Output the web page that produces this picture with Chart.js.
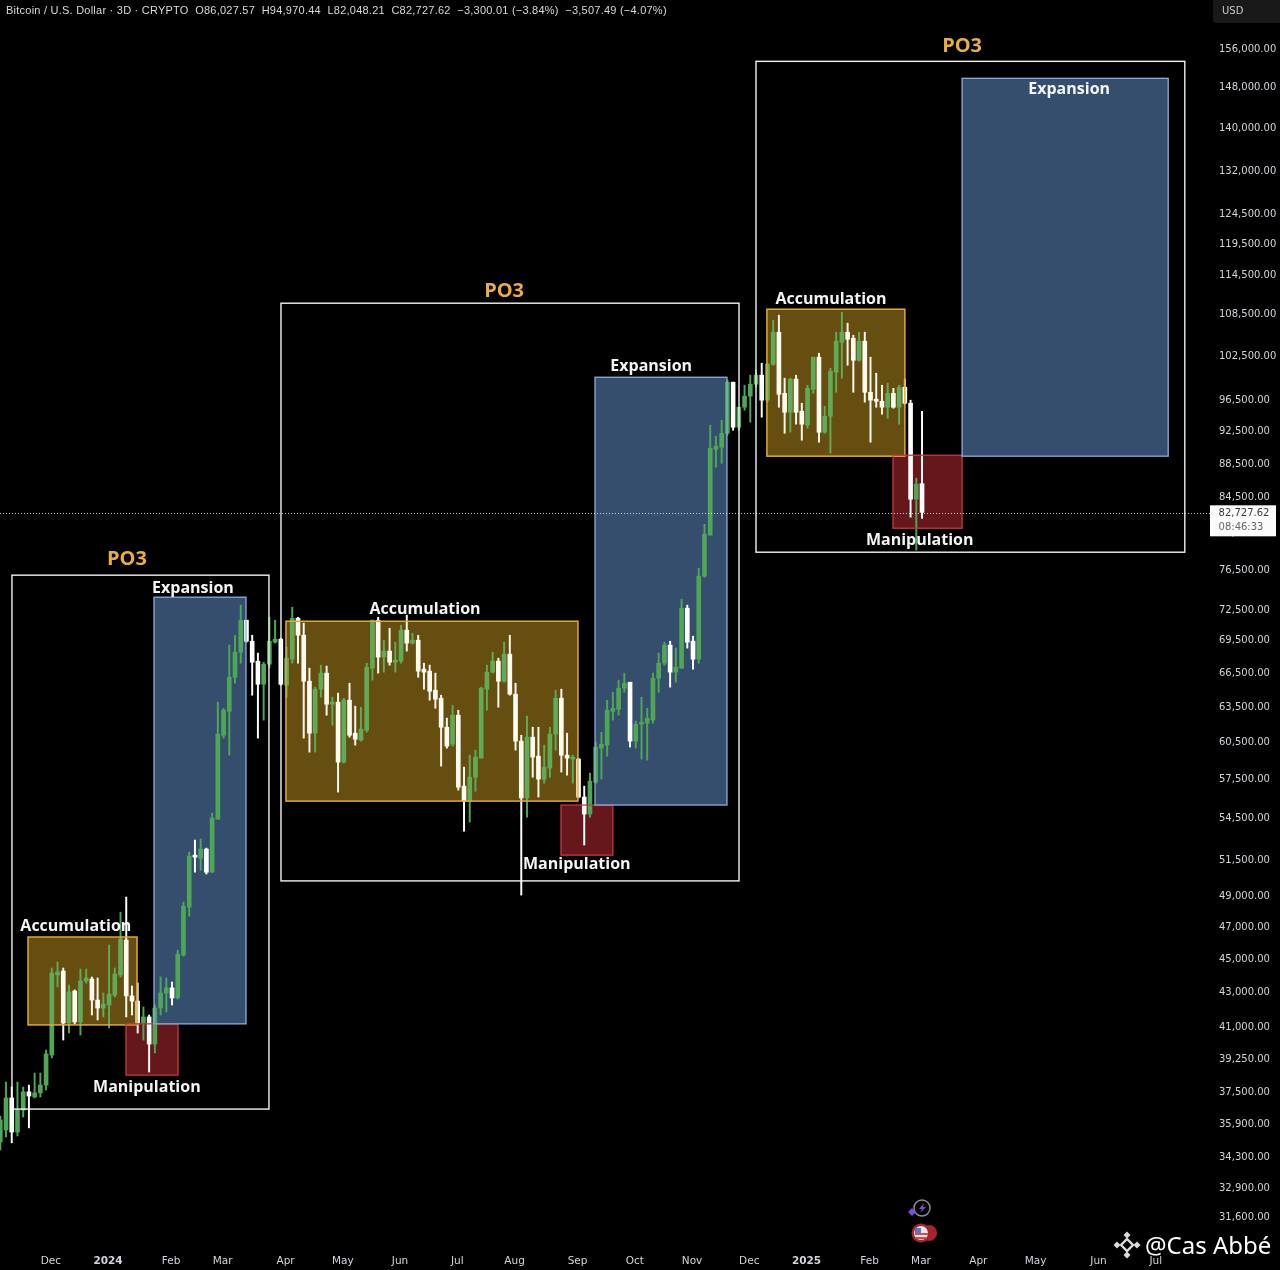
<!DOCTYPE html>
<html>
<head>
<meta charset="utf-8">
<style>html,body{margin:0;padding:0;background:#000}canvas{display:block}</style>
<script src="https://cdn.jsdelivr.net/npm/chart.js@4"></script>
</head>
<body>
<canvas id="c" width="1280" height="1270"></canvas>
<script>
const openPrices=[35000,35580,37170,35480,36560,37480,37220,37430,37830,39420,
43970,44210,41180,43020,41240,43610,43730,42490,42030,42200,
42780,43970,46120,42730,42430,41180,41520,40010,42030,42900,
43200,42610,45180,48240,51720,51580,52220,50600,54400,61010,
63040,66040,68340,71390,69370,67500,65410,67230,69280,69560,
65320,67690,71580,69940,65680,61180,64970,66410,63650,63830,
58810,64000,61180,60600,61430,66860,71390,67880,68440,67410,
67510,70420,69190,69470,66770,66590,64880,64170,61680,60270,
62700,56910,55760,57610,59130,64970,66500,67510,65680,68150,
64530,60520,56000,60850,59290,57460,58330,61100,64170,59370,
59050,59050,56070,54780,57220,59940,60190,63040,63220,65060,
65590,60520,61940,62020,62280,65950,67320,69000,66500,66860,
72570,69370,67690,75820,80190,90170,90420,92160,98820,92920,
95500,96950,98550,99770,96420,101270,105800,97330,94850,99230,
94980,93180,97870,102250,92290,94330,100180,104370,105800,104930,
101830,104510,97470,96550,96280,95500,97330,95500,98140,96020,
84230,86027.57];
const highPrices=[36260,37990,37730,37990,37730,37830,38460,38460,39690,44390,
44760,44390,43370,43080,44330,44330,43850,43790,42900,45800,
44390,47910,48910,43310,43490,42090,41630,42200,43850,43790,
43550,45490,48580,52010,52870,52940,52290,54850,63830,63300,
69000,69940,72870,71390,69940,68250,67410,71680,71390,69660,
68810,72670,71680,71100,66860,65150,67140,67050,64260,64620,
64170,65500,63480,63390,67320,71390,71680,69470,70610,69280,
70900,71880,70130,69940,67320,67140,66410,64440,62450,63560,
63130,58410,59370,59780,65150,67140,68340,67780,69280,69940,
65500,61010,62620,61680,61680,60190,61680,64880,64970,61180,
59370,59130,56910,57930,60440,61260,64000,64700,65770,66410,
65590,62200,64260,63300,66410,68250,69280,69370,68720,73470,
72870,69850,76650,81390,93180,91790,93820,99090,98820,95500,
98410,99770,100450,101410,101410,107550,108290,99360,99360,99770,
96020,98410,102250,102810,95630,100720,105800,108730,107110,105370,
105800,105800,102250,100040,98410,98680,98000,98410,99230,96420,
86680,94970.44];
const lowPrices=[34620,35240,34960,35290,36210,35680,37170,37220,37580,39260,
43260,40230,40620,41120,40510,43490,41630,41350,41520,40900,
42670,43850,41520,41630,40620,40230,38510,39530,41630,41810,
42200,42550,45120,47650,50600,50740,50470,50600,54400,60770,
59370,65500,67320,69280,64440,60770,62280,66950,69190,65320,
64260,67320,67320,60770,59620,59620,64260,62700,61850,56450,
58730,60850,60190,60520,61270,65770,66410,66500,67140,66500,
67320,68440,69090,66040,64970,64000,63300,58490,59940,60110,
56600,53520,54180,56520,59130,63130,66410,63390,65590,64440,
59780,49040,54550,57610,56070,57140,57610,59780,58010,57770,
57140,56000,52510,54550,57140,57460,59290,62280,62700,64700,
60030,59940,59050,58970,62020,64700,67140,65150,65590,66860,
68720,66770,67320,75710,80190,87990,88460,91910,92540,92540,
95110,93560,98140,94210,96150,101130,95500,92160,92290,93310,
91290,92790,97330,91040,92160,89680,97470,99360,101130,97470,
101690,96150,91040,95500,94590,94080,95370,93310,95890,82180,
78560,82048.21];
const closePrices=[36070,37170,35480,36560,37480,37270,37430,37830,39470,44090,
44150,41180,42960,41240,43610,43790,42490,42030,42260,42840,
44030,46180,42730,42430,41180,41520,40010,42030,42900,43200,
42610,45240,48300,51720,51650,52220,50600,54480,61100,63130,
66040,68340,71390,69370,67410,65410,67230,69370,69560,65410,
67780,71580,69940,65680,61180,64970,66410,63650,63830,58810,
64000,61010,60680,61520,66950,71390,67880,68440,67410,67600,
70420,69190,69470,66590,66500,64790,64090,61680,60110,62700,
56830,55760,57610,59210,65060,66500,67510,65680,68150,64530,
60520,56000,60850,59210,57460,58410,61100,64170,59370,59130,
59130,56070,54780,57300,60020,60270,63130,63300,65060,65500,
60520,61940,62110,62450,65950,67320,69000,66500,66950,72570,
69280,67690,75820,80300,90300,90550,92160,98820,92920,95500,
96950,98550,99770,96420,101270,105800,97200,94850,99230,94850,
93310,98000,102250,92290,94330,100310,104510,105800,104790,101830,
104510,97470,96420,96280,95500,97330,95500,98140,96020,84230,
85970,82727.62];

const priceTicks=[156000,148000,140000,132000,124500,119500,114500,108500,102500,96500,92500,88500,84500,80500,76500,72500,69500,66500,63500,60500,57500,54500,51500,49000,47000,45000,43000,41000,39250,37500,35900,34300,32900,31600];
const monthLabels=['Dec','2024','Feb','Mar','Apr','May','Jun','Jul','Aug','Sep','Oct','Nov','Dec','2025','Feb','Mar','Apr','May','Jun','Jul'];
const monthCandles=[9,19,30,39,50,60,70,80,90,101,111,121,131,141,152,161,171,181,192,202];

// zones: [first candle, last candle, top price, bottom price]
const po3Zones=[[2.04,46.93,75920,36610],[49.03,129.03,110080,50000],[132,206.9,153180,78340]];
const accumulationZones=[[4.84,23.88,46310,41070],[49.9,100.9,71290,55760],[133.9,158,109180,89320]];
const manipulationZones=[[21.96,31.04,41130,38350],[97.94,107,55460,51790],[155.93,168,89440,80950]];
const expansionZones=[[26.85,42.92,73670,41130],[103.88,126.93,99490,55460],[168,204,149670,89320]];
// labels: [candle, price]
const po3Labels=[[22.13,77700],[88,112050],[168,156580]];
const accumulationLabels=[[13.2,47070],[74.2,72570],[145.1,110830]];
const manipulationLabels=[[25.6,37780],[100.7,51230],[160.6,79750]];
const expansionLabels=[[33.66,74680],[113.7,101130],[186.7,147640]];

const headerText='Bitcoin / U.S. Dollar · 3D · CRYPTO  O86,027.57  H94,970.44  L82,048.21  C82,727.62  −3,300.01 (−3.84%)  −3,507.49 (−4.07%)';
const lastPrice=82727.62, countdown='08:46:33';

const GREEN='#4fa656', WHITE='#ffffff';
const candleColors=closePrices.map((c,i)=>c>=openPrices[i]?GREEN:WHITE);
const fmt=v=>v.toLocaleString('en-US',{minimumFractionDigits:2,maximumFractionDigits:2});

function zoneRect(ch,z){const x=ch.scales.x,y=ch.scales.y;const a=x.getPixelForValue(z[0]),b=x.getPixelForValue(z[1]),t=y.getPixelForValue(z[2]),u=y.getPixelForValue(z[3]);return [a,t,b-a,u-t];}
const drawZones={id:'drawZones',
 beforeDraw(ch){const c=ch.ctx;c.save();c.fillStyle='#000';c.fillRect(0,0,ch.width,ch.height);c.restore();},
 beforeDatasetsDraw(ch){const c=ch.ctx;c.save();
  [[accumulationZones,'#554006'],[manipulationZones,'#66171c'],[expansionZones,'#364e6e']].forEach(([zs,f])=>{zs.forEach(z=>{c.fillStyle=f;c.fillRect(...zoneRect(ch,z));});});
  c.restore();},
 afterDatasetsDraw(ch){const c=ch.ctx;c.save();
  c.fillStyle='rgba(255,210,110,0.10)';accumulationZones.forEach(z=>c.fillRect(...zoneRect(ch,z)));
  [[accumulationZones,'#e0a93c',1.5],[manipulationZones,'#c23a44',1.3],[expansionZones,'#8aaee0',1.3],[po3Zones,'#f2f2f2',1.4]].forEach(([zs,s,w])=>{zs.forEach(z=>{c.strokeStyle=s;c.lineWidth=w;c.strokeRect(...zoneRect(ch,z));});});
  const y=ch.scales.y,x=ch.scales.x,ly=y.getPixelForValue(lastPrice);
  c.strokeStyle='rgba(255,255,255,0.75)';c.lineWidth=1;c.setLineDash([1,2]);c.beginPath();c.moveTo(0,Math.round(ly)+1.5);c.lineTo(1210,Math.round(ly)+1.5);c.stroke();c.setLineDash([]);
  c.textAlign='center';c.textBaseline='middle';
  c.fillStyle='#e8ae45';c.font='700 20px "Open Sans"';
  po3Labels.forEach(l=>c.fillText('PO3',x.getPixelForValue(l[0]),y.getPixelForValue(l[1])+1));
  c.fillStyle='#f4f4f4';c.font='700 16px "Open Sans"';
  accumulationLabels.forEach(l=>c.fillText('Accumulation',x.getPixelForValue(l[0]),y.getPixelForValue(l[1])+1));
  manipulationLabels.forEach(l=>c.fillText('Manipulation',x.getPixelForValue(l[0]),y.getPixelForValue(l[1])+1));
  expansionLabels.forEach(l=>c.fillText('Expansion',x.getPixelForValue(l[0]),y.getPixelForValue(l[1])+1));
  c.restore();},
 afterDraw(ch){const c=ch.ctx,y=ch.scales.y;c.save();
  c.textBaseline='middle';c.textAlign='left';
  c.fillStyle='#d6d8de';c.font='11px "Liberation Sans"';c.letterSpacing='0.235px';c.fillText(headerText,6,10.5);c.letterSpacing='0px';
  // currency chip
  c.fillStyle='#191919';c.beginPath();c.roundRect(1213,-4,70,27,3);c.fill();
  c.fillStyle='#c8cad0';c.font='10px "DejaVu Sans"';c.fillText('USD',1222,11.5);
  // last price tag
  const ly=y.getPixelForValue(lastPrice);
  c.fillStyle='#fbfbfb';c.fillRect(1210,ly-7,66,31);
  c.textAlign='center';c.font='10px "DejaVu Sans"';c.fillStyle='#3a3a3a';c.fillText(fmt(lastPrice),1244,ly+1.5);
  c.fillStyle='#666';c.fillText(countdown,1241,ly+15.5);
  // event markers
  c.strokeStyle='#8d8d96';c.lineWidth=1.5;c.beginPath();c.arc(922,1208,8,0,7);c.stroke();
  c.fillStyle='#7a4fd0';c.beginPath();c.moveTo(912,1208);c.lineTo(916,1212);c.lineTo(912,1216);c.lineTo(908,1212);c.fill();
  c.beginPath();c.moveTo(924,1203);c.lineTo(919,1209);c.lineTo(922,1209);c.lineTo(920,1213);c.lineTo(926,1207);c.lineTo(923,1207);c.fill();
  c.fillStyle='#a8242e';c.beginPath();c.arc(929,1233,8,0,7);c.fill();
  c.beginPath();c.arc(921,1233,9.5,0,7);c.fill();
  c.fillStyle='#e8e8ea';c.beginPath();c.arc(921,1233,7,0,7);c.fill();
  c.fillStyle='#d24a50';c.fillRect(915,1233,13,2);c.fillRect(916,1237,10,2);
  c.fillStyle='#5a78b5';c.fillRect(915,1228,6,5);
  // watermark
  c.fillStyle='#dcdcdc';
  [[1127,1235,3.5],[1127,1255,3.5],[1117,1245,3.5],[1137,1245,3.5]].forEach(([a,b,r])=>{c.beginPath();c.moveTo(a,b-r);c.lineTo(a+r,b);c.lineTo(a,b+r);c.lineTo(a-r,b);c.fill();});
  c.strokeStyle='#dcdcdc';c.lineWidth=2.4;c.beginPath();c.moveTo(1121,1245);c.lineTo(1127,1251);c.lineTo(1133,1245);c.lineTo(1127,1239);c.closePath();c.stroke();
  c.fillStyle='#fff';c.textAlign='left';c.font='24px "Noto Sans"';c.fillText('@Cas Abbé',1145,1247);
  c.restore();}
};

new Chart(document.getElementById('c'),{
 type:'bar',
 data:{datasets:[
  {label:'Wick',data:closePrices.map((_,i)=>({x:i,y:[lowPrices[i],highPrices[i]]})),backgroundColor:candleColors,barThickness:1.3,grouped:false,borderWidth:0,order:2},
  {label:'Body',data:closePrices.map((c,i)=>({x:i,y:[Math.min(openPrices[i],c),Math.max(openPrices[i],c)]})),backgroundColor:candleColors,barThickness:4,grouped:false,borderWidth:0,minBarLength:2,order:1}
 ]},
 plugins:[drawZones],
 options:{
  responsive:false,animation:false,events:[],
  layout:{padding:0},
  plugins:{legend:{display:false},title:{display:false},tooltip:{enabled:false}},
  scales:{
   x:{type:'linear',offset:false,bounds:'data',min:-0.05,max:211.3,
    grid:{display:false},border:{display:false},
    afterFit(s){s.height=25;s.paddingLeft=0;s.paddingRight=0;},
    afterBuildTicks(s){s.ticks=monthCandles.map(v=>({value:v}));},
    ticks:{autoSkip:false,maxRotation:0,padding:2,labelOffset:-1,color:'#d1d4dc',
     font:ctx=>({family:'"DejaVu Sans"',size:10.5,weight:(ctx.tick&&monthLabels[monthCandles.indexOf(ctx.tick.value)]||'').startsWith('20')?'bold':'normal'}),
     callback:v=>monthLabels[monthCandles.indexOf(v)]}},
   y:{type:'logarithmic',position:'right',bounds:'data',min:30406,max:166570,
    grid:{display:false},border:{display:false},
    afterFit(s){s.width=70;s.paddingTop=0;s.paddingBottom=0;},
    afterBuildTicks(s){s.ticks=priceTicks.map(v=>({value:v}));},
    ticks:{autoSkip:false,padding:1,labelOffset:1,color:'#d1d4dc',font:{family:'"DejaVu Sans"',size:10},callback:v=>fmt(v)}}
  }
 }
});
</script>
</body>
</html>
